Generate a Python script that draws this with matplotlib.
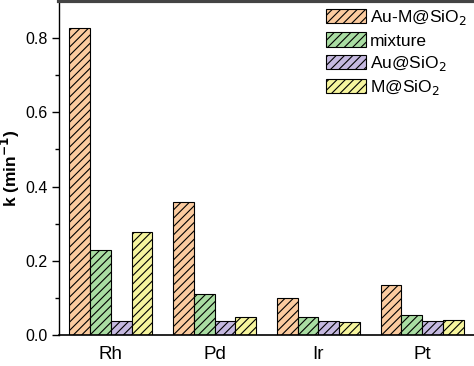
import matplotlib.pyplot as plt
import numpy as np

plt.rcParams['font.family'] = ['Liberation Sans', 'DejaVu Sans']
plt.rcParams['hatch.linewidth'] = 0.8

metals = ['Rh', 'Pd', 'Ir', 'Pt']
series = ['Au-M@SiO$_2$', 'mixture', 'Au@SiO$_2$', 'M@SiO$_2$']
au_m = [0.826, 0.359, 0.100, 0.135]
mixture = [0.229, 0.110, 0.048, 0.055]
au = [0.038, 0.038, 0.038, 0.038]
m_only = [0.277, 0.048, 0.034, 0.040]
colors = ['#FBCB9F', '#A9DDA2', '#C5B9E0', '#F6F59E']

fig = plt.figure(figsize=(4.74, 3.66), dpi=100)
ax = fig.add_axes([59 / 474, 31 / 366, 1 - 59 / 474, 334 / 366])

x = np.arange(len(metals))
w = 0.2
for i, (vals, lab, c) in enumerate(zip([au_m, mixture, au, m_only], series, colors)):
    ax.bar(x + (i - 1.5) * w, vals, w, color=c, edgecolor='black', linewidth=0.8,
           hatch='////', label=lab)

ax.set_xlim(-0.5, 3.5)
ax.set_ylim(0, 0.9)
ax.set_xticks(x)
ax.set_xticklabels(metals, fontsize=13.5)
ax.set_yticks([0.0, 0.2, 0.4, 0.6, 0.8])
ax.set_yticks(np.arange(0.1, 0.9, 0.2), minor=True)
ax.tick_params(axis='y', labelsize=11.5, direction='out', length=5, width=1, pad=3)
ax.tick_params(axis='y', which='minor', length=3, width=1)
ax.tick_params(axis='x', length=0, pad=8)
ax.set_ylabel('k (min$^{\\mathbf{-1}}$)', fontsize=12.5, fontweight='bold')
ax.yaxis.set_label_coords(-0.088, 0.5)

ax.spines['top'].set_linewidth(3)
ax.spines['top'].set_color('#444444')
ax.spines['right'].set_visible(False)
ax.spines['left'].set_linewidth(1)
ax.spines['bottom'].set_linewidth(1.2)

ax.legend(loc='upper right', bbox_to_anchor=(1.02, 1.025), frameon=False, fontsize=12.5,
          handlelength=2.3, handleheight=0.9, labelspacing=0.3, handletextpad=0.25)

fig.savefig('out.png', dpi=100)
